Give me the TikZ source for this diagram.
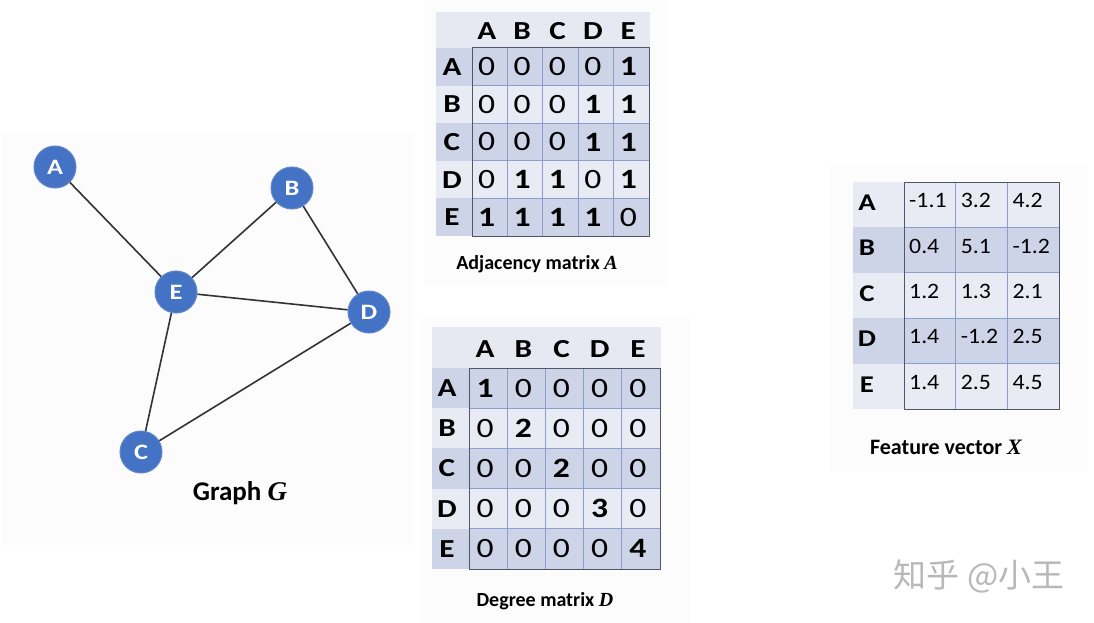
\documentclass[tikz,border=0pt]{standalone}
\usepackage{fontspec}
\setmainfont{Carlito}
\newfontfamily\cellfont{Carlito}[FakeStretch=1.2]
\newfontfamily\featfont{Carlito}[FakeStretch=1.08]
\newfontfamily\cjkfont{Noto Sans CJK SC}
\newfontfamily\varfont{Liberation Serif}
\definecolor{hdr}{HTML}{E6E9F2}
\definecolor{dk}{HTML}{CDD4E8}
\definecolor{lt}{HTML}{E8EBF4}
\definecolor{gridb}{HTML}{8C9DCF}
\definecolor{brd}{HTML}{50566C}
\definecolor{nodeb}{HTML}{4472C4}
\definecolor{panel}{HTML}{FCFCFC}
\newcommand{\vn}[1]{{\varfont\bfseries\itshape #1}}
\newcommand{\cv}[1]{\ifnum#1=0 #1\else\textbf{#1}\fi}
\tikzset{
  vert/.style={circle, fill=nodeb, draw=nodeb!85!white, line width=1pt, minimum size=42pt, inner sep=0pt,
    text=white, font=\fontsize{22}{22}\cellfont\bfseries},
  edge/.style={draw=black!80, line width=1.6pt},
  title/.style={font=\fontsize{20}{20}\selectfont\bfseries, text=black},
  lab/.style={font=\fontsize{26}{26}\cellfont\bfseries, inner sep=0pt},
  cell/.style={font=\fontsize{28}{28}\cellfont, inner sep=0pt},
  fcell/.style={font=\fontsize{22}{22}\featfont, inner sep=0pt, anchor=west},
  flab/.style={font=\fontsize{24}{24}\cellfont\bfseries, inner sep=0pt},
  wm/.style={font=\fontsize{33}{33}\cjkfont, text=black!28}
}
\begin{document}
\begin{tikzpicture}[x=1pt,y=-1pt]
\useasboundingbox (0,0) rectangle (1094,623);
\fill[white] (0,0) rectangle (1094,623);
% faint panels
\fill[panel] (2,133) rectangle (415,545);
\fill[panel] (424,0) rectangle (668,285);
\fill[panel] (420,318) rectangle (690,623);
\fill[panel] (830,165) rectangle (1088,472);

% ---------- Graph G ----------
\node[vert] (A) at (55,167) {A};
\node[vert] (B) at (292,188) {B};
\node[vert] (E) at (176,292) {E};
\node[vert] (D) at (369,312) {D};
\node[vert] (C) at (141,452) {C};
\draw[edge] (A) -- (E);
\draw[edge] (B) -- (E);
\draw[edge] (B) -- (D);
\draw[edge] (E) -- (D);
\draw[edge] (E) -- (C);
\draw[edge] (C) -- (D);
\node[title, font=\fontsize{27}{27}\selectfont\bfseries] (gt) at (240,493) {Graph \vn{G}};

% ---------- Adjacency matrix ----------
\def\axa{472}\def\aya{48}\def\acw{35.4}\def\arh{37.6}
\fill[hdr] (436,12) rectangle (650,\aya);
\foreach \r in {1,...,5}{
  \pgfmathsetmacro{\yt}{\aya+(\r-1)*\arh}
  \pgfmathsetmacro{\yb}{\aya+\r*\arh}
  \pgfmathtruncatemacro{\odd}{mod(\r,2)}
  \ifnum\odd=1 \def\cc{dk}\else\def\cc{lt}\fi
  \fill[\cc] (436,\yt) rectangle (649,\yb);
}
\foreach \c in {1,...,4}{
  \draw[gridb, line width=0.8pt] ({\axa+\c*\acw},\aya) -- ({\axa+\c*\acw},{\aya+5*\arh});
}
\foreach \r in {1,...,4}{
  \draw[gridb, line width=0.8pt] (\axa,{\aya+\r*\arh}) -- (649,{\aya+\r*\arh});
}
\draw[brd, line width=1pt] (\axa,\aya) rectangle (649,{\aya+5*\arh});
\foreach \L [count=\c] in {A,B,C,D,E}{
  \node[lab] (ah\c) at ({\axa+(\c-0.5)*\acw-3},31) {\L};
  \node[lab] (ar\c) at (452,{\aya+(\c-0.5)*\arh}) {\L};
}
\foreach \row [count=\r] in {{0,0,0,0,1},{0,0,0,1,1},{0,0,0,1,1},{0,1,1,0,1},{1,1,1,1,0}}{
  \foreach \v [count=\c] in \row {
    \node[cell] (a\r\c) at ({\axa+(\c-0.5)*\acw-3},{\aya+(\r-0.5)*\arh}) {\cv{\v}};
  }
}
\node[title] (at) at (537,264) {Adjacency matrix \vn{A}};

% ---------- Degree matrix ----------
\def\dxa{469}\def\dya{368}\def\dcw{38.2}\def\drh{40.2}
\fill[hdr] (432,327) rectangle (661,\dya);
\foreach \r in {1,...,5}{
  \pgfmathsetmacro{\yt}{\dya+(\r-1)*\drh}
  \pgfmathsetmacro{\yb}{\dya+\r*\drh}
  \pgfmathtruncatemacro{\odd}{mod(\r,2)}
  \ifnum\odd=1 \def\cc{dk}\else\def\cc{lt}\fi
  \fill[\cc] (432,\yt) rectangle (660,\yb);
}
\foreach \c in {1,...,4}{
  \draw[gridb, line width=0.8pt] ({\dxa+\c*\dcw},\dya) -- ({\dxa+\c*\dcw},{\dya+5*\drh});
}
\foreach \r in {1,...,4}{
  \draw[gridb, line width=0.8pt] (\dxa,{\dya+\r*\drh}) -- (660,{\dya+\r*\drh});
}
\draw[brd, line width=1pt] (\dxa,\dya) rectangle (660,{\dya+5*\drh});
\foreach \L [count=\c] in {A,B,C,D,E}{
  \node[lab] (dh\c) at ({\dxa+(\c-0.5)*\dcw-3},349) {\L};
  \node[lab] (dr\c) at (447,{\dya+(\c-0.5)*\drh}) {\L};
}
\foreach \row [count=\r] in {{1,0,0,0,0},{0,2,0,0,0},{0,0,2,0,0},{0,0,0,3,0},{0,0,0,0,4}}{
  \foreach \v [count=\c] in \row {
    \node[cell] (d\r\c) at ({\dxa+(\c-0.5)*\dcw-3},{\dya+(\r-0.5)*\drh}) {\cv{\v}};
  }
}
\node[title] (dt) at (545,601) {Degree matrix \vn{D}};

% ---------- Feature vector ----------
\def\fxa{904}\def\fya{182}\def\fcw{51.7}\def\frh{45.4}
\foreach \r in {1,...,5}{
  \pgfmathsetmacro{\yt}{\fya+(\r-1)*\frh}
  \pgfmathsetmacro{\yb}{\fya+\r*\frh}
  \pgfmathtruncatemacro{\odd}{mod(\r,2)}
  \ifnum\odd=1 \def\cc{lt}\else\def\cc{dk}\fi
  \fill[\cc] (853,\yt) rectangle (1059,\yb);
}
\foreach \c in {1,2}{
  \draw[gridb, line width=0.8pt] ({\fxa+\c*\fcw},\fya) -- ({\fxa+\c*\fcw},{\fya+5*\frh});
}
\foreach \r in {1,...,4}{
  \draw[gridb, line width=0.8pt] (\fxa,{\fya+\r*\frh}) -- (1059,{\fya+\r*\frh});
}
\draw[brd, line width=1pt] (\fxa,\fya) rectangle (1059,{\fya+5*\frh});
\foreach \L [count=\c] in {A,B,C,D,E}{
  \node[flab] (fr\c) at (867,{\fya+(\c-0.5)*\frh-2}) {\L};
}
\foreach \row [count=\r] in {{-1.1,3.2,4.2},{0.4,5.1,-1.2},{1.2,1.3,2.1},{1.4,-1.2,2.5},{1.4,2.5,4.5}}{
  \foreach \v [count=\c] in \row {
    \node[fcell] (f\r\c) at ({\fxa+(\c-1)*\fcw+5},{\fya+(\r-0.5)*\frh-4}) {\v};
  }
}
\node[title, font=\fontsize{22}{22}\selectfont\bfseries] (ft) at (946,447) {Feature vector \vn{X}};

% ---------- watermark ----------
\node[wm] (wmk) at (979,576) {知乎 @小王};
\end{tikzpicture}
\end{document}
